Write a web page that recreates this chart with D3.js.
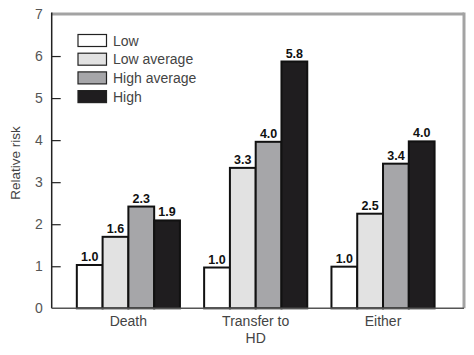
<!DOCTYPE html>
<html><head><meta charset="utf-8">
<script src="https://cdn.jsdelivr.net/npm/d3@7"></script>
<style>body{margin:0;background:#fff;}svg{display:block;font-family:"Liberation Sans",Arial,sans-serif;}</style>
</head><body>
<svg id="c" width="474" height="355"></svg>
<script>
const categories = ["Death", "Transfer to\nHD", "Either"];
const series = ["Low", "Low average", "High average", "High"];
const colors = ["#ffffff", "#e2e2e2", "#a6a6a9", "#1f1d1f"];
// bar heights as drawn
const death = [1.03, 1.70, 2.42, 2.09];
const transfer = [0.97, 3.34, 3.96, 5.87];
const either = [0.99, 2.25, 3.44, 3.97];
// printed labels
const deathLabels = ["1.0", "1.6", "2.3", "1.9"];
const transferLabels = ["1.0", "3.3", "4.0", "5.8"];
const eitherLabels = ["1.0", "2.5", "3.4", "4.0"];
const yTicks = [0, 1, 2, 3, 4, 5, 6, 7];

(function () {
const values = [death, transfer, either];
const labels = [deathLabels, transferLabels, eitherLabels];

const svg = d3.select("#c");
const pLeft = 51.7, pRight = 464, pTop = 14, pBottom = 308.3;
const y = d3.scaleLinear().domain([0, 7]).range([pBottom, pTop]);
const x = d3.scaleBand().domain(categories).range([49.7, 461.7]).paddingInner(0.19).paddingOuter(0.213);
const xs = d3.scaleBand().domain(series).range([0, x.bandwidth()]);

// frame top/right gray
svg.append("line").attr("x1", pLeft).attr("x2", pRight).attr("y1", pTop).attr("y2", pTop)
  .attr("stroke", "#a3a3a3").attr("stroke-width", 3);
svg.append("line").attr("x1", pRight).attr("x2", pRight).attr("y1", pTop - 1.5).attr("y2", pBottom)
  .attr("stroke", "#a3a3a3").attr("stroke-width", 3);

// bars
categories.forEach((c, ci) => {
  const g = svg.append("g").attr("transform", `translate(${x(c)},0)`);
  g.selectAll("rect").data(values[ci]).join("rect")
    .attr("x", (d, i) => xs(series[i]))
    .attr("y", d => y(d))
    .attr("width", xs.bandwidth())
    .attr("height", d => y(0) - y(d))
    .attr("fill", (d, i) => colors[i])
    .attr("stroke", "#111").attr("stroke-width", 2);
  g.selectAll("text").data(values[ci]).join("text")
    .attr("x", (d, i) => xs(series[i]) + xs.bandwidth() / 2)
    .attr("y", d => y(d) - 4)
    .attr("text-anchor", "middle")
    .attr("font-size", 12.5).attr("font-weight", "bold").attr("fill", "#111")
    .text((d, i) => labels[ci][i]);
});

// y axis
const yAxis = d3.axisRight(y).tickValues(yTicks).tickSize(9).tickFormat("");
const ya = svg.append("g").attr("transform", `translate(${pLeft},0)`).call(yAxis);
ya.select(".domain").remove();
ya.selectAll(".tick line").attr("stroke", "#222").attr("stroke-width", 1.2);
ya.selectAll(".tick").filter(d => d === 0 || d === 7).remove();
svg.selectAll(".ylab").data(yTicks).join("text").attr("class", "ylab")
  .attr("x", 39).attr("y", d => y(d) + 5).attr("text-anchor", "middle")
  .attr("font-size", 14).attr("fill", "#555").text(d => d);

// axis lines
svg.append("line").attr("x1", pLeft).attr("x2", pLeft).attr("y1", pTop - 1.5).attr("y2", pBottom)
  .attr("stroke", "#222").attr("stroke-width", 1.5);
svg.append("line").attr("x1", pLeft).attr("x2", pRight).attr("y1", pBottom).attr("y2", pBottom)
  .attr("stroke", "#555").attr("stroke-width", 1.5);

// x labels
categories.forEach(c => {
  const lines = c.split("\n");
  const t = svg.append("text").attr("text-anchor", "middle").attr("font-size", 14).attr("fill", "#444");
  lines.forEach((l, i) => {
    t.append("tspan").attr("x", x(c) + x.bandwidth() / 2).attr("y", 326 + i * 17).text(l);
  });
});

// y title
svg.append("text").attr("transform", "translate(20,163) rotate(-90)")
  .attr("text-anchor", "middle").attr("font-size", 13.5).attr("fill", "#444").text("Relative risk");

// legend
const lg = svg.append("g");
series.forEach((s, i) => {
  lg.append("rect").attr("x", 78).attr("y", 34.5 + i * 18.7).attr("width", 28.5).attr("height", 12)
    .attr("fill", colors[i]).attr("stroke", "#222").attr("stroke-width", 1.2);
  lg.append("text").attr("x", 113).attr("y", 45.5 + i * 18.7).attr("font-size", 14).attr("fill", "#444").text(s);
});
})();
</script>
</body></html>
